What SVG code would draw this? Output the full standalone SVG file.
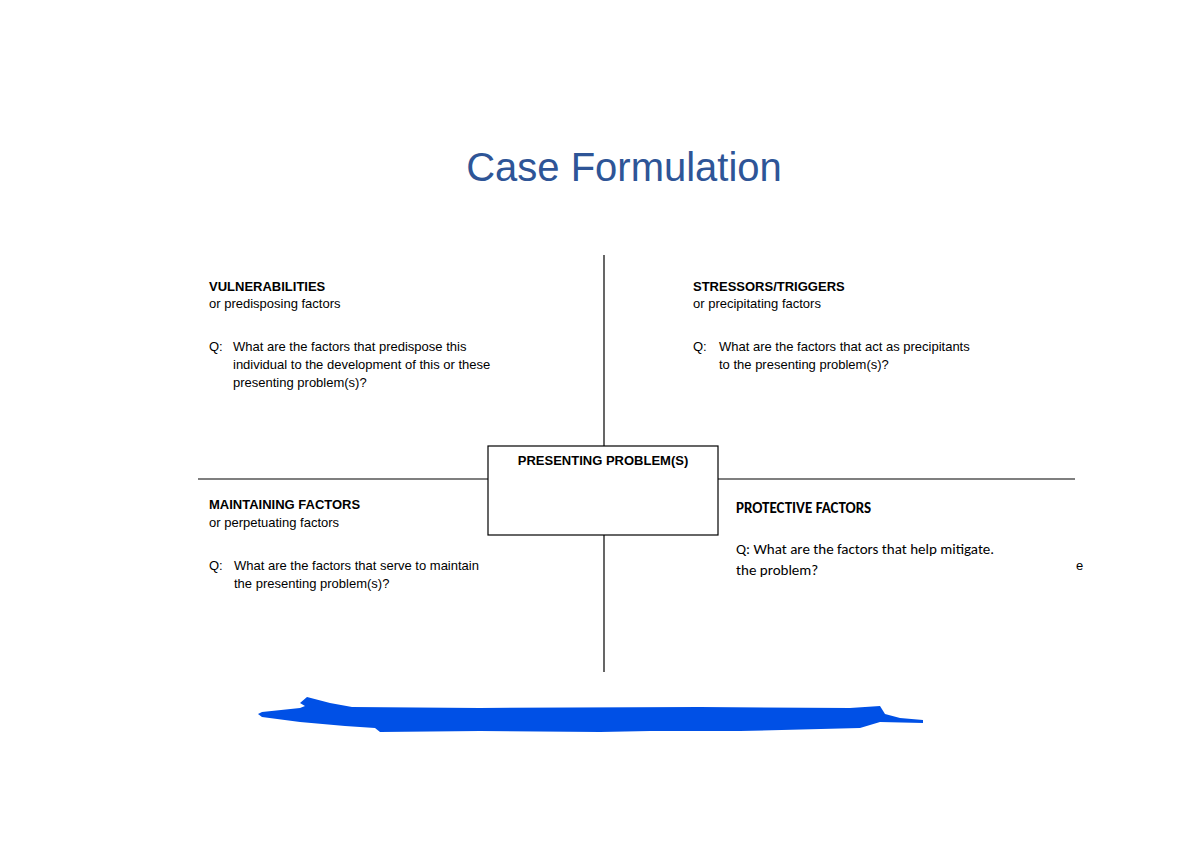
<svg xmlns="http://www.w3.org/2000/svg" width="1200" height="848" viewBox="0 0 1200 848">
<style>
.t{font-family:"Liberation Sans",Arial,sans-serif;font-size:13px;fill:#000}
.b{font-weight:bold}
.c{font-family:Carlito,"Liberation Sans",sans-serif;font-size:15px;fill:#000}
.ln{stroke:#000;stroke-width:1.2;fill:none}
</style>
<rect width="1200" height="848" fill="#fff"/>
<text x="624" y="181" text-anchor="middle" font-family="Liberation Sans,Arial,sans-serif" font-size="40" fill="#2e5597">Case Formulation</text>
<g id="connectors">
<line class="ln" x1="604" y1="255" x2="604" y2="446"/>
<line class="ln" x1="604" y1="535" x2="604" y2="672"/>
<line class="ln" x1="198" y1="479" x2="488" y2="479"/>
<line class="ln" x1="718" y1="479" x2="1075" y2="479"/>
</g>
<g id="vulnerabilities">
<text class="t b" x="209" y="291">VULNERABILITIES</text>
<text class="t" x="209" y="308">or predisposing factors</text>
<text class="t" x="209" y="351">Q:</text>
<text class="t" x="233" y="351">What are the factors that predispose this</text>
<text class="t" x="233" y="369">individual to the development of this or these</text>
<text class="t" x="233" y="387">presenting problem(s)?</text>
</g>
<g id="stressors">
<text class="t b" x="693" y="291">STRESSORS/TRIGGERS</text>
<text class="t" x="693" y="308">or precipitating factors</text>
<text class="t" x="693" y="351">Q:</text>
<text class="t" x="719" y="351">What are the factors that act as precipitants</text>
<text class="t" x="719" y="369">to the presenting problem(s)?</text>
</g>
<g id="presenting">
<rect x="488" y="446" width="230" height="89" fill="#fff" stroke="#000" stroke-width="1.2"/>
<text class="t b" x="603" y="465" text-anchor="middle">PRESENTING PROBLEM(S)</text>
</g>
<g id="maintaining">
<text class="t b" x="209" y="509">MAINTAINING FACTORS</text>
<text class="t" x="209" y="527">or perpetuating factors</text>
<text class="t" x="209" y="570">Q:</text>
<text class="t" x="234" y="570">What are the factors that serve to maintain</text>
<text class="t" x="234" y="588">the presenting problem(s)?</text>
</g>
<g id="protective">
<text class="c b" x="736" y="513">PROTECTIVE FACTORS</text>
<text class="c" x="736" y="554">Q: What are the factors that help mitigate.</text>
<text class="c" x="736" y="575">the problem?</text>
<text class="t" x="1076" y="570">e</text>
</g>
<path fill="#0050e6" d="M307,697 L330,703 L352,707 L480,708 L700,707 L850,708 L880,706 L885,714 L900,718 L923,720 L923,723 L880,722 L860,728 L740,731 L650,731 L600,732 L480,731 L380,732 L375,728 L345,726 L300,722 L262,717 L258,714 L262,712 L300,708 L305,706 L300,703 Z"/>
</svg>
